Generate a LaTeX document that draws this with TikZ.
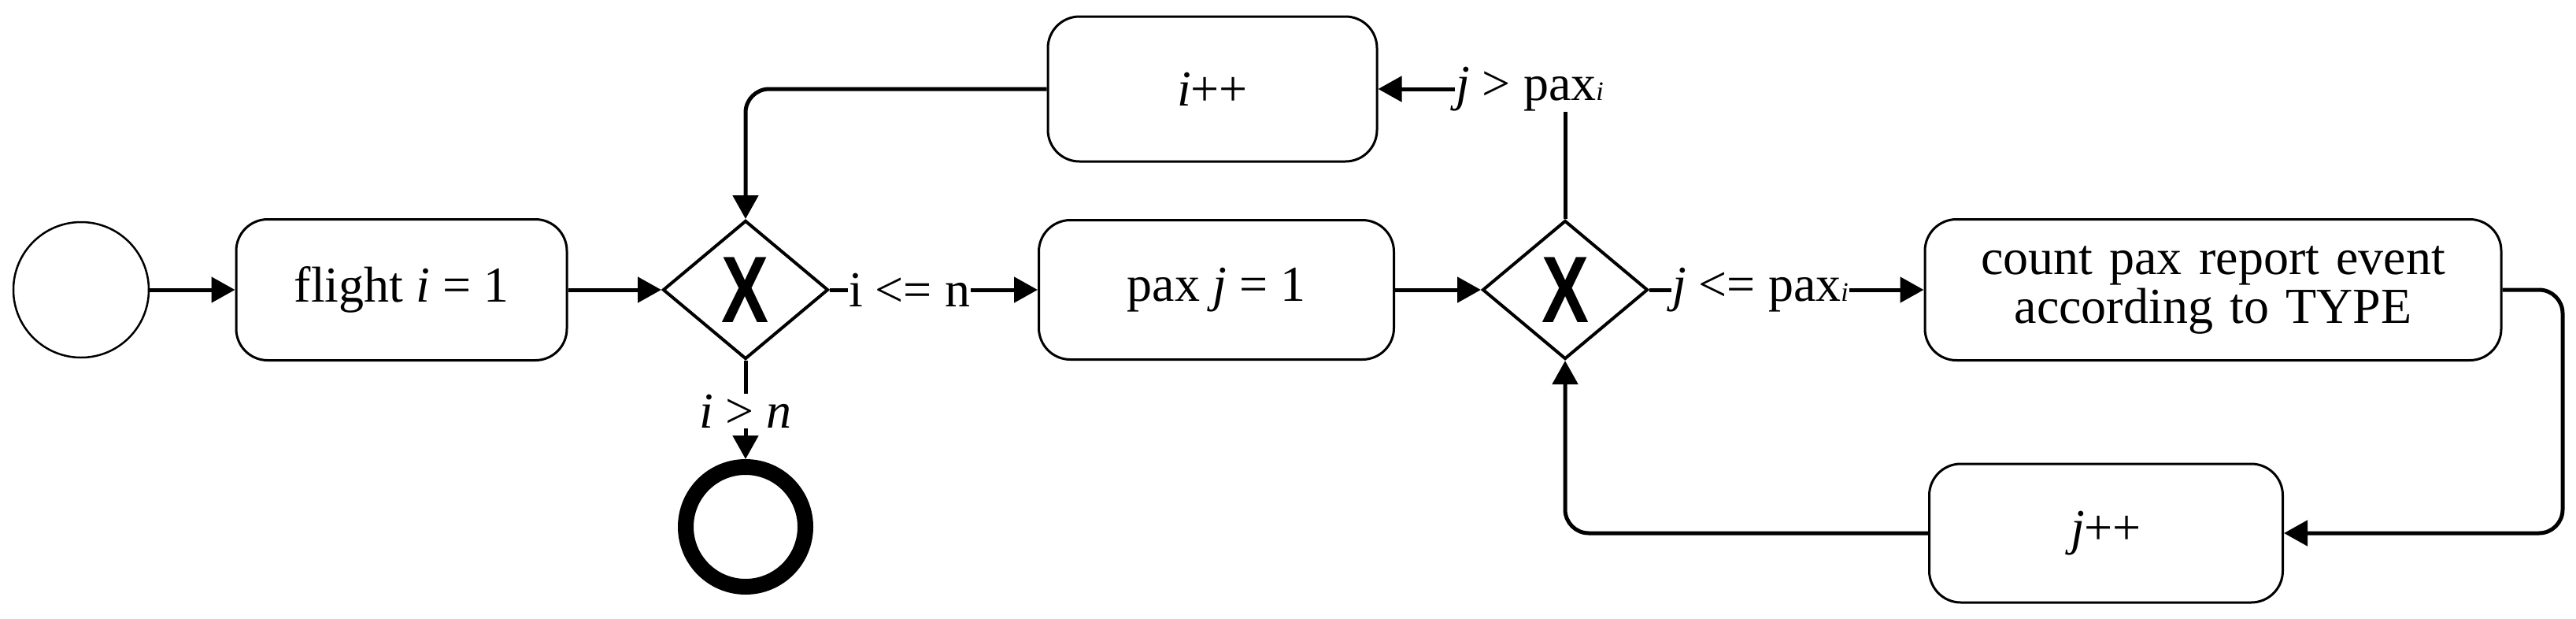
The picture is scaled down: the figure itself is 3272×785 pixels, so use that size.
\documentclass[tikz,border=0pt]{standalone}
\usepackage{fontspec}
\setmainfont{Liberation Serif}
\newfontfamily\gxfont{Liberation Sans}
\usetikzlibrary{arrows.meta,shapes.geometric}
\begin{document}
\begin{tikzpicture}[x=1pt,y=-1pt,
  every node/.style={font=\fontsize{64}{72}\selectfont},
  task/.style={draw,line width=3pt,rounded corners=40pt,inner sep=0pt},
  gw/.style={draw,line width=4pt,diamond,minimum width=210pt,minimum height=176pt,inner sep=0pt,aspect=1.2},
  flow/.style={line width=5pt,-{Triangle[length=30pt,width=32pt]}},
  plain/.style={line width=5pt},
  lbl/.style={fill=white,inner sep=1pt}]
\useasboundingbox (0,0) rectangle (3272,785);
\node[draw,circle,line width=2.5pt,minimum size=172pt,inner sep=0pt] (start) at (103,368) {};
\node[task,minimum width=420pt,minimum height=179pt] (flight) at (510,368) {flight \textit{i} = 1};
\node[gw] (g1) at (947,368) {\gxfont\bfseries\fontsize{120}{120}\selectfont\scalebox{0.75}[1]{X}};
\node[draw,circle,line width=20pt,minimum size=152pt,inner sep=0pt] (end) at (947,669) {};
\node[task,minimum width=418pt,minimum height=184pt] (ipp) at (1540,113) {\textit{i}++};
\node[task,minimum width=451pt,minimum height=177pt] (pax) at (1545,368) {pax \textit{j} = 1};
\node[gw] (g2) at (1988,368) {\gxfont\bfseries\fontsize{120}{120}\selectfont\scalebox{0.75}[1]{X}};
\node[task,minimum width=732pt,minimum height=179pt,align=center,text width=720pt] (count) at (2811,368) {count pax report event\\[-10pt]according to TYPE};
\node[task,minimum width=449pt,minimum height=176pt] (jpp) at (2675,677) {\textit{j}++};
% labels
\node[lbl,anchor=center] (l1) at (1155,368) {i <= n};
\node[lbl] (l2) at (947,522) {\textit{i} > \textit{n}};
\node[lbl] (l3) at (2236,368) {\textit{j} <= pax{\fontsize{34}{34}\selectfont\itshape i}};
\node[lbl] (l4) at (1943,113) {\textit{j} > pax{\fontsize{34}{34}\selectfont\itshape i}};
% connectors
\draw[flow] (start) -- (flight);
\draw[flow] (flight) -- (g1);
\draw[plain] (g1.east) -- (g1.east -| l1.west);
\draw[flow] (l1.east |- pax.west) -- (pax.west);
\draw[flow] (pax) -- (g2);
\draw[plain] (g2.east) -- (g2.east -| l3.west);
\draw[flow] (l3.east |- count.west) -- (count.west);
\draw[plain] (g1.south) -- (l2.north);
\draw[flow] (l2.south) -- (end.north);
\draw[plain] (g2.north) -- (g2.north |- l4.south);
\draw[flow] (l4.west |- ipp.east) -- (ipp.east);
\draw[flow,rounded corners=30pt] (ipp.west) -| (g1.north);
\draw[flow,rounded corners=30pt] (count.east) -- (3255,368) |- (jpp.east);
\draw[flow,rounded corners=30pt] (jpp.west) -| (g2.south);
\end{tikzpicture}
\end{document}
